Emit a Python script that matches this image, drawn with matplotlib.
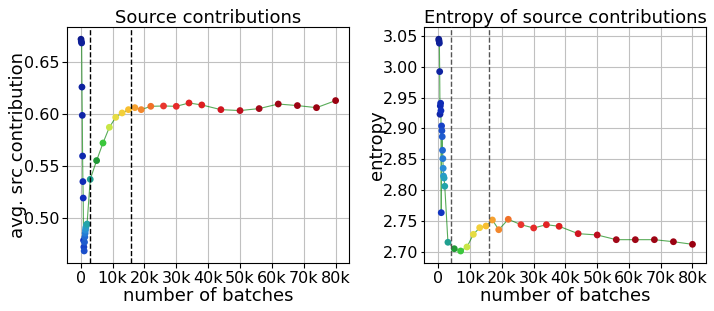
import numpy as np
import matplotlib
matplotlib.use('Agg')
import matplotlib.pyplot as plt
from matplotlib.colors import LinearSegmentedColormap
from matplotlib.ticker import FuncFormatter

# -----------------------------
# data
# -----------------------------
batches = [100, 200, 300, 400, 500, 600, 700, 800, 900, 1000, 1100, 1200,
           1300, 1400, 1500, 1600, 1800, 2000,
           3000, 5000, 7000, 9000, 11000, 13000, 15000, 17000, 19000,
           22000, 26000, 30000, 34000, 38000,
           44000, 50000, 56000, 62000, 68000, 74000, 80000]

src_contrib = [0.6722, 0.6700, 0.6686, 0.6262, 0.5990, 0.5599, 0.5353, 0.5195,
               0.4788, 0.4724, 0.4686, 0.4770, 0.4820, 0.4856, 0.4885, 0.4910,
               0.4933, 0.4945,
               0.5375, 0.5555, 0.5724, 0.5875, 0.5971, 0.6013, 0.6045, 0.6064,
               0.6045, 0.6077, 0.6080, 0.6077, 0.6109, 0.6090,
               0.6045, 0.6036, 0.6055, 0.6099, 0.6084, 0.6064, 0.6132]

entropy = [3.0442, 3.0415, 3.0378, 2.9919, 2.9230, 2.9364, 2.9408, 2.9288,
           2.7640, 2.9041, 2.8965, 2.8868, 2.8648, 2.8513, 2.8357, 2.8233,
           2.8200, 2.8067,
           2.7162, 2.7058, 2.7021, 2.7086, 2.7290, 2.7398, 2.7425, 2.7522,
           2.7365, 2.7533, 2.7446, 2.7393, 2.7446, 2.7420,
           2.7301, 2.7280, 2.7204, 2.7204, 2.7204, 2.7171, 2.7129]

src_marks = [3000, 15900]
ent_marks = [4000, 15900]

# colour ramp over the sample index (blue -> teal -> green -> yellow -> red)
cmap = LinearSegmentedColormap.from_list('ramp', [
    (0.00, '#0d1a8c'), (0.20, '#1030c0'), (0.30, '#2060d0'),
    (0.38, '#2a95d8'), (0.44, '#22a5b0'), (0.475, '#20a090'),
    (0.50, '#1e9436'), (0.526, '#3cc83c'), (0.553, '#c8e646'),
    (0.59, '#f0d840'), (0.63, '#f8c030'), (0.66, '#f5a030'),
    (0.71, '#f07028'), (0.74, '#e83030'), (0.81, '#e02020'),
    (0.86, '#c81020'), (0.90, '#a00818'), (1.00, '#9a0010')])
colors = cmap(np.linspace(0, 1, len(batches)))

kfmt = FuncFormatter(lambda v, p: '0' if v == 0 else '%dk' % (v / 1000))

fig = plt.figure(figsize=(7.14, 3.11), dpi=100)
ax1 = fig.add_axes([0.0938, 0.1543, 0.395, 0.759])
ax2 = fig.add_axes([0.594, 0.1543, 0.395, 0.759])

for ax, y, marks, mcol, title, ylabel in [
        (ax1, src_contrib, src_marks, 'k', 'Source contributions', 'avg. src contribution'),
        (ax2, entropy, ent_marks, '#555555', 'Entropy of source contributions', 'entropy')]:
    ax.grid(True, color='#c0c0c0', lw=0.8)
    ax.set_axisbelow(True)
    ax.plot(batches, y, color='green', lw=0.8, alpha=0.65, zorder=2)
    ax.scatter(batches, y, c=colors, s=24, zorder=3, linewidths=0)
    for m in marks:
        ax.axvline(m, color=mcol, ls='--', lw=1.0, zorder=4)
    ax.set_title(title, fontsize=13, pad=3)
    ax.set_xlabel('number of batches', fontsize=13, labelpad=1)
    ax.set_ylabel(ylabel, fontsize=13, labelpad=-2)
    ax.set_xticks(np.arange(0, 80001, 10000))
    ax.xaxis.set_major_formatter(kfmt)
    ax.tick_params(labelsize=11.5, pad=2)

ax1.set_xlim(-4300, 84200)
ax1.set_ylim(0.457, 0.684)
ax1.set_yticks([0.50, 0.55, 0.60, 0.65])

ax2.set_xlim(-4500, 84300)
ax2.set_ylim(2.6827, 3.064)
ax2.set_yticks(np.arange(2.70, 3.051, 0.05))
ax2.tick_params(axis='y', length=2.5, pad=1.5)

fig.savefig('out.png', dpi=100)
